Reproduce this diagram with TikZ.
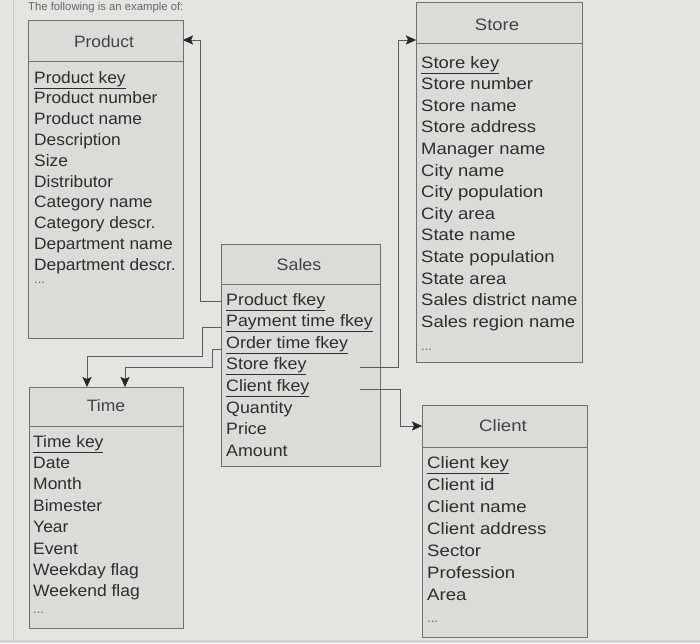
\documentclass[tikz,border=0pt]{standalone}
\usepackage{fontspec}
\setmainfont{Liberation Sans}
\newfontfamily\fprod[FakeStretch=1.05]{Liberation Sans}
\newfontfamily\ftime[FakeStretch=1.06]{Liberation Sans}
\newfontfamily\fsales[FakeStretch=1.08]{Liberation Sans}
\newfontfamily\fstore[FakeStretch=1.12]{Liberation Sans}
\newfontfamily\fclient[FakeStretch=1.13]{Liberation Sans}
\usetikzlibrary{arrows.meta}
\definecolor{bg}{HTML}{E4E4E1}
\definecolor{boxfill}{HTML}{DBDBD8}
\definecolor{edge}{HTML}{707070}
\definecolor{ink}{HTML}{2E2E2E}
\definecolor{wire}{HTML}{5C5C5C}
\definecolor{tip}{HTML}{262626}
\tikzset{
  tbl/.style={draw=edge, fill=boxfill, line width=0.9pt, anchor=north west, inner sep=0pt, outer sep=0pt},
  sep/.style={draw=edge, line width=0.9pt},
  ttl/.style={anchor=base, inner sep=0pt, text=ink!90, font=\fontsize{16.5}{19}\selectfont},
  row/.style={anchor=base west, inner sep=0pt, text=ink, font=\fontsize{16.5}{19}\selectfont},
  dotrow/.style={anchor=base west, inner sep=0pt, text=ink!75, font=\fontsize{13}{14}\selectfont},
  wire/.style={draw=wire, line width=0.8pt},
  arr/.style={wire, -{Stealth[length=10pt,width=9pt,inset=2pt,color=tip,fill=tip,line width=0.3pt]}},
}
\begin{document}
\begin{tikzpicture}[x=1pt,y=-1pt]
\useasboundingbox (0,0) rectangle (700,643);
\fill[bg] (0,0) rectangle (700,643);
\fill[black!18] (0,640) rectangle (700,643);
\draw[black!22, line width=0.8pt] (13,0) -- (13,640);

\node[anchor=base west, inner sep=0pt, text=black!60, font=\fontsize{11.3}{12}\selectfont] (intro) at (28,10) {The following is an example of:};

% Product
\node[tbl, minimum width=155pt, minimum height=318pt] (product) at (28,20) {};
\draw[sep] ([yshift=-41pt]product.north west) -- ([yshift=-41pt]product.north east);
\node[ttl] (productt) at (104,47) {\fprod Product};
\foreach [count=\i] \t in {\underline{Product key},Product number,Product name,Description,Size,Distributor,Category name,Category descr.,Department name,Department descr.}
  \node[row] (p\i) at (34,{83+20.8*(\i-1)}) {\fprod\t};
\node[dotrow] (pdots) at (34,283) {...};

% Store
\node[tbl, minimum width=166pt, minimum height=360pt] (store) at (416,2) {};
\draw[sep] ([yshift=-41pt]store.north west) -- ([yshift=-41pt]store.north east);
\node[ttl] (storet) at (497,30) {\fstore Store};
\foreach [count=\i] \t in {\underline{Store key},Store number,Store name,Store address,Manager name,City name,City population,City area,State name,State population,State area,Sales district name,Sales region name}
  \node[row] (st\i) at (421,{68+21.6*(\i-1)}) {\fstore\t};
\node[dotrow] (stdots) at (421,350) {...};

% Sales
\node[tbl, minimum width=159pt, minimum height=222pt] (sales) at (221,244) {};
\draw[sep] ([yshift=-40pt]sales.north west) -- ([yshift=-40pt]sales.north east);
\node[ttl] (salest) at (299,270) {\fsales Sales};
\foreach [count=\i] \t in {\underline{Product fkey},\underline{Payment time fkey},\underline{Order time fkey},\underline{Store fkey},\underline{Client fkey},Quantity,Price,Amount}
  \node[row] (s\i) at (226,{305+21.6*(\i-1)}) {\fsales\t};

% Time
\node[tbl, minimum width=154pt, minimum height=241pt] (time) at (29,387) {};
\draw[sep] ([yshift=-39pt]time.north west) -- ([yshift=-39pt]time.north east);
\node[ttl] (timet) at (106,411) {\ftime Time};
\foreach [count=\i] \t in {\underline{Time key},Date,Month,Bimester,Year,Event,Weekday\ flag,Weekend\ flag}
  \node[row] (t\i) at (33,{447+21.4*(\i-1)}) {\ftime\t};
\node[dotrow] (tdots) at (33,613) {...};

% Client
\node[tbl, minimum width=165pt, minimum height=232pt] (client) at (422,405) {};
\draw[sep] ([yshift=-42pt]client.north west) -- ([yshift=-42pt]client.north east);
\node[ttl] (clientt) at (503,431) {\fclient Client};
\foreach [count=\i] \t in {\underline{Client key},Client id,Client name,Client address,Sector,Profession,Area}
  \node[row] (c\i) at (427,{468+22*(\i-1)}) {\fclient\t};
\node[dotrow] (cdots) at (427,622) {...};

% entry points
\coordinate (productin) at ([yshift=-20pt]product.north east);
\coordinate (storein) at ([yshift=-38pt]store.north west);
\coordinate (clientin) at ([yshift=-21pt]client.north west);

% connectors
\draw[arr] (sales.west |- s1) -| (200,40) -- (productin);
\draw[arr] ([yshift=-4pt]sales.west |- s2) -| (202,356) -| ([xshift=-19pt]time.north);
\draw[arr] ([yshift=-4pt]sales.west |- s3) -| (212,367) -| ([xshift=19pt]time.north);
\draw[arr] ([xshift=134pt,yshift=-1pt]s4.west) -| (398,40) -- (storein);
\draw[arr] ([xshift=134pt,yshift=-1pt]s5.west) -| (400,426) -- (clientin);
\end{tikzpicture}
\end{document}
